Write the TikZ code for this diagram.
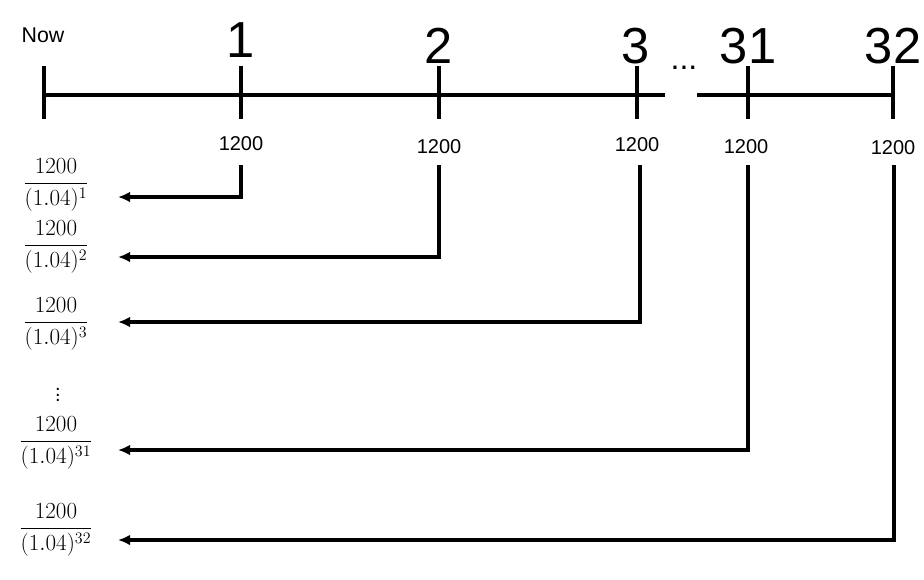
\documentclass[tikz,border=0pt]{standalone}
\usepackage{amsmath}
\usepackage{fontspec}
\setmainfont{Liberation Sans}
\usetikzlibrary{arrows.meta}
\begin{document}
\begin{tikzpicture}[x=0.75pt,y=-0.75pt,
  ln/.style={line width=2.6pt},
  tk/.style={line width=3pt},
  arr/.style={line width=2.4pt,-{Latex[length=9pt,width=8pt]}},
  big/.style={font=\fontsize{38}{40}\selectfont,inner sep=0},
  amt/.style={font=\fontsize{15}{17}\selectfont,inner sep=0},
  frac/.style={font=\fontsize{16.5}{18}\selectfont,inner sep=0}]
\useasboundingbox (0,0) rectangle (924,579);
\draw[ln] (44,95) coordinate (a0) -- (665,95) coordinate (a1);
\draw[ln] (697,95) coordinate (b0) -- (893,95) coordinate (b1);
\foreach \x/\n in {44/t0,241/t1,439/t2,637/t3,748/t31,893/t32}
  \draw[tk] (\x,66) coordinate (\n top) -- (\x,119) coordinate (\n bot);
\node[inner sep=0,font=\fontsize{16}{18}\selectfont] (now) at (43,35) {Now};
\node[big] (l1) at (241,40) {1};
\node[big] (l2) at (439,46) {2};
\node[big] (l3) at (636,46) {3};
\node[big] (l31) at (748,46) {31};
\node[big] (l32) at (893,46) {32};
\node[inner sep=0,font=\fontsize{24}{24}\selectfont] (dots) at (684,68) {...};
\foreach \x/\y/\n in {241/144/1,439/147/2,637/145/3,746/147/31,893/148/32}
  \node[amt] (c\n) at (\x,\y) {1200};
\foreach \x/\y/\n/\e in {241/197/1/1,439/257/2/2,640/322/3/3,748/450/31/31,894/540/32/32}{
  \coordinate (s\n) at (\x,165);
  \coordinate (k\n) at (\x,\y);
  \coordinate (e\n) at (118,\y);
  \draw[arr] (s\n) -- (k\n) -- (e\n);
}
\foreach \y/\e in {185/1,247/2,324/3,443/31,530/32}
  \node[frac] (f\e) at (56,\y) {$\dfrac{1200}{(1.04)^{\e}}$};
\node[inner sep=0,font=\fontsize{15}{15}\selectfont] (vd) at (58,391) {$\vdots$};
\end{tikzpicture}
\end{document}
